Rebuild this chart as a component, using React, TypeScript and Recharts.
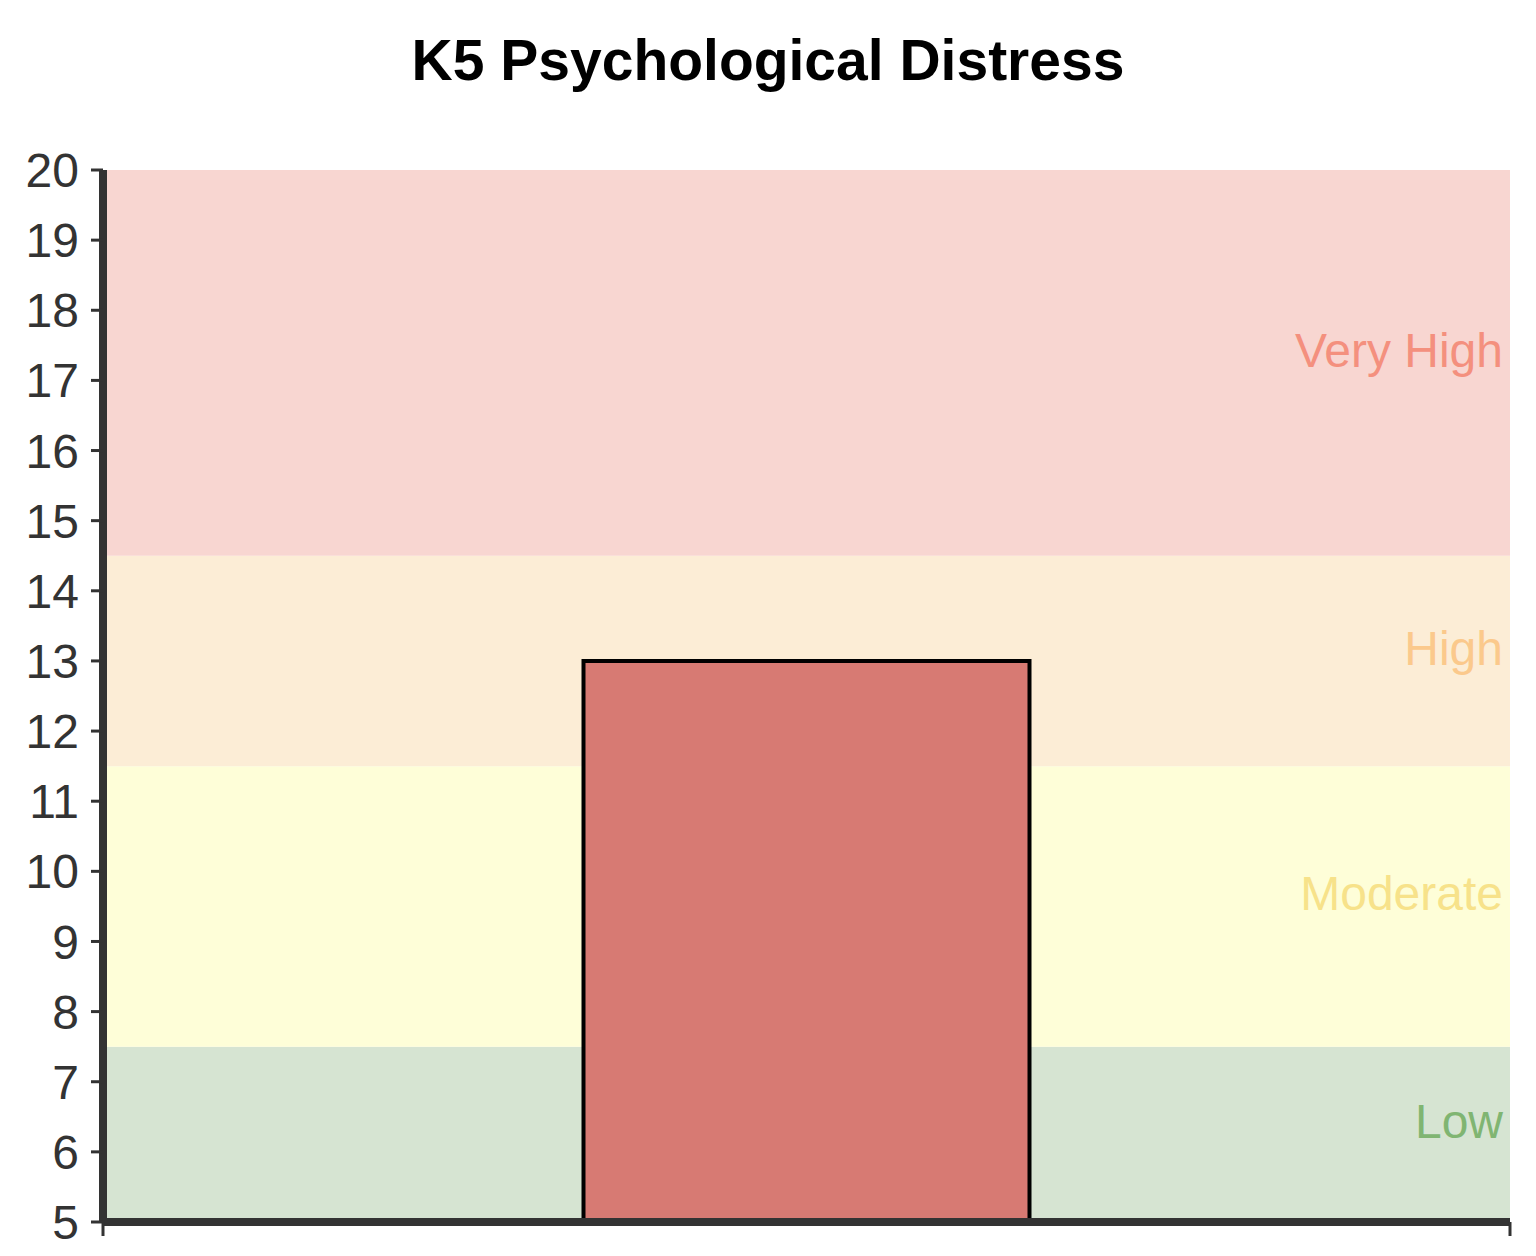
import { BarChart, Bar, XAxis, YAxis, ReferenceArea } from 'recharts';

const categories = ['Score'];
const positions = [0.5];
const scores = [13];
const xTicks = [0, 1];
const yTicks = [5, 6, 7, 8, 9, 10, 11, 12, 13, 14, 15, 16, 17, 18, 19, 20];

const bandNames = ['Low', 'Moderate', 'High', 'Very High'];
const bandFrom = [5, 7.5, 11.5, 14.5];
const bandTo = [7.5, 11.5, 14.5, 20];
const bandFill = ['#d6e4d2', '#fefed8', '#fcedd6', '#f8d6d1'];
const bandText = ['#80b572', '#f7e28a', '#fbc98c', '#f4907e'];

const data = categories.map((name, i) => ({ name, pos: positions[i], score: scores[i] }));

const font = '"Liberation Sans", Arial, Helvetica, sans-serif';
const axisColor = '#333';

export default function App() {
  return (
    <div style={{ position: 'relative', width: 1520, height: 1240, fontFamily: font }}>
      <div
        style={{
          position: 'absolute',
          top: 24,
          left: 0,
          width: 1520,
          textAlign: 'center',
          fontSize: 57,
          lineHeight: '57px',
          fontWeight: 'bold',
          color: '#000',
        }}
      >
        K5 Psychological Distress
      </div>
      <BarChart
        width={1520}
        height={1240}
        data={data}
        margin={{ top: 162, right: 18, left: 0, bottom: 6 }}
        style={{ fontFamily: font }}
      >
        <XAxis
          dataKey="pos"
          type="number"
          domain={[0, 1]}
          ticks={xTicks}
          tickFormatter={() => ''}
          height={20}
          axisLine={{ stroke: axisColor, strokeWidth: 8 }}
          tickLine={{ stroke: axisColor, strokeWidth: 3 }}
          tickSize={14}
        />
        <YAxis
          type="number"
          domain={[5, 20]}
          ticks={yTicks}
          interval={0}
          width={95}
          axisLine={{ stroke: axisColor, strokeWidth: 8 }}
          tickLine={{ stroke: axisColor, strokeWidth: 3 }}
          tickSize={12}
          tickMargin={12}
          tick={{ fill: axisColor, fontSize: 48 }}
        />
        {bandNames.map((name, i) => (
          <ReferenceArea
            key={name}
            y1={bandFrom[i]}
            y2={bandTo[i]}
            fill={bandFill[i]}
            fillOpacity={1}
            stroke="none"
            ifOverflow="hidden"
            label={{
              value: name,
              position: 'insideRight',
              offset: 7,
              dy: -13,
              fill: bandText[i],
              fontSize: 48,
            }}
          />
        ))}
        <Bar
          dataKey="score"
          barSize={446}
          fill="#d77a73"
          stroke="#000"
          strokeWidth={4}
          isAnimationActive={false}
        />
      </BarChart>
    </div>
  );
}
